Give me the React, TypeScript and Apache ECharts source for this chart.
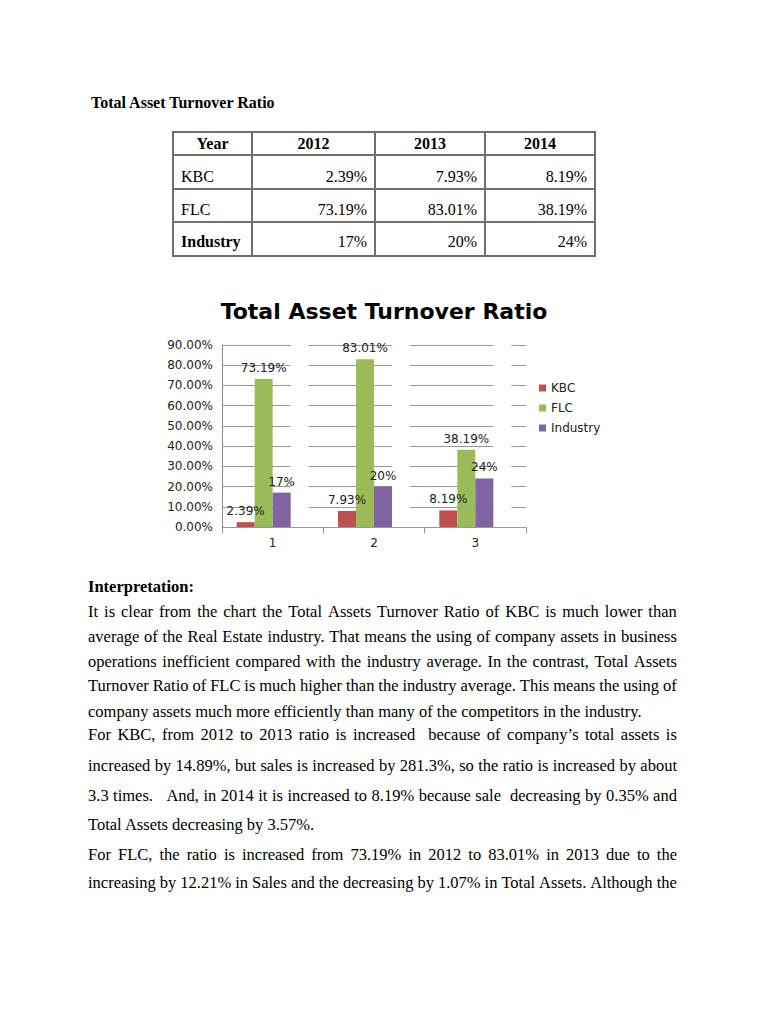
import React, { useEffect, useRef } from 'react';
import * as echarts from 'echarts';

// ---- data ----
const years = ['2012', '2013', '2014'];
const categories = ['1', '2', '3'];
const seriesNames = ['KBC', 'FLC', 'Industry'];
const kbc = [2.39, 7.93, 8.19];
const flc = [73.19, 83.01, 38.19];
const industry = [17, 20, 24];
const yMin = 0;
const yMax = 90;
const yInterval = 10;
const colors = ['#C0504D', '#9BBB59', '#8064A2'];

const chartTitle = 'Total Asset Turnover Ratio';
const docHeading = 'Total Asset Turnover Ratio';
const interpretationHeading = 'Interpretation:';
const bodyLines = [
  'It is clear from the chart the Total Assets Turnover Ratio of KBC is much lower than',
  'average of the Real Estate industry. That means the using of company assets in business',
  'operations inefficient compared with the industry average. In the contrast, Total Assets',
  'Turnover Ratio of FLC is much higher than the industry average. This means the using of',
  'company assets much more efficiently than many of the competitors in the industry.',
  'For KBC, from 2012 to 2013 ratio is increased  because of company\u2019s total assets is',
  'increased by 14.89%, but sales is increased by 281.3%, so the ratio is increased by about',
  '3.3 times.   And, in 2014 it is increased to 8.19% because sale  decreasing by 0.35% and',
  'Total Assets decreasing by 3.57%.',
  'For FLC, the ratio is increased from 73.19% in 2012 to 83.01% in 2013 due to the',
  'increasing by 12.21% in Sales and the decreasing by 1.07% in Total Assets. Although the',
];
const bodyJustified = [true, true, true, true, false, true, true, true, false, true, true];

// ---- layout ----
const bodyLineY = [612, 637, 662, 686, 712, 735, 766, 796, 825, 855, 883];
const serif = "'Liberation Serif', 'Times New Roman', serif";
const sans = "'DejaVu Sans', sans-serif";
const bodySize = 16.5;

const tableRowsY = [132, 155, 189, 222, 256];
const tableColsX = [173, 252, 375, 485, 595];
const tableTextY = [144, 177, 210, 242];

const fmtPct = (v: number) => `${v}%`;

function TextAt(props: { x: number; y: number; children: any; bold?: boolean; align?: 'left' | 'right' | 'center'; w?: number; size?: number }) {
  const { x, y, bold, align = 'left', w, size = 16 } = props;
  const style: any = {
    position: 'absolute',
    top: y - 10,
    height: 20,
    lineHeight: '20px',
    fontFamily: serif,
    fontSize: size,
    fontWeight: bold ? 'bold' : 'normal',
    color: '#000',
    whiteSpace: 'pre',
  };
  if (align === 'left') style.left = x;
  else if (align === 'right') { style.left = x - 300; style.width = 300; style.textAlign = 'right'; }
  else { style.left = x - (w || 200) / 2; style.width = w || 200; style.textAlign = 'center'; }
  return <div style={style}>{props.children}</div>;
}

function JustLine(props: { text: string; y: number; justify: boolean }) {
  const left = 88;
  const width = 589;
  if (!props.justify) {
    return <TextAt x={left} y={props.y} size={bodySize}>{props.text}</TextAt>;
  }
  const words = props.text.split(' ');
  return (
    <div
      style={{
        position: 'absolute',
        left,
        width,
        top: props.y - 10,
        height: 20,
        lineHeight: '20px',
        display: 'flex',
        justifyContent: 'space-between',
        columnGap: 3,
        fontFamily: serif,
        fontSize: bodySize,
        color: '#000',
      }}
    >
      {words.map((w, i) => (
        <span key={i} style={{ whiteSpace: 'pre' }}>{w}</span>
      ))}
    </div>
  );
}

function Table() {
  const x0 = tableColsX[0];
  const x1 = tableColsX[tableColsX.length - 1];
  const y0 = tableRowsY[0];
  const y1 = tableRowsY[tableRowsY.length - 1];
  const lc = '#6f6f6f';
  const rows = [
    { name: 'KBC', vals: kbc, bold: false },
    { name: 'FLC', vals: flc, bold: false },
    { name: 'Industry', vals: industry, bold: true },
  ];
  return (
    <>
      {tableRowsY.map((y, i) => (
        <div key={'h' + i} style={{ position: 'absolute', left: x0 - 1, top: y - 1, width: x1 - x0 + 2, height: 2, background: lc }} />
      ))}
      {tableColsX.map((x, i) => (
        <div key={'v' + i} style={{ position: 'absolute', left: x - 1, top: y0 - 1, width: 2, height: y1 - y0 + 2, background: lc }} />
      ))}
      <TextAt x={(tableColsX[0] + tableColsX[1]) / 2} y={tableTextY[0]} align="center" bold>Year</TextAt>
      {years.map((yr, i) => (
        <TextAt key={yr} x={(tableColsX[i + 1] + tableColsX[i + 2]) / 2} y={tableTextY[0]} align="center" bold>{yr}</TextAt>
      ))}
      {rows.map((r, ri) => (
        <React.Fragment key={r.name}>
          <TextAt x={tableColsX[0] + 8} y={tableTextY[ri + 1]} bold={r.bold}>{r.name}</TextAt>
          {r.vals.map((v, ci) => (
            <TextAt key={ci} x={tableColsX[ci + 2] - 8} y={tableTextY[ri + 1]} align="right">{fmtPct(v)}</TextAt>
          ))}
        </React.Fragment>
      ))}
    </>
  );
}

export default function App() {
  const ref = useRef<HTMLDivElement>(null);

  useEffect(() => {
    if (!ref.current) return;
    const chart = echarts.init(ref.current, undefined, { renderer: 'svg' });
    const labelStyle = {
      show: true,
      position: 'top',
      distance: 5,
      formatter: (p: any) => fmtPct(p.value),
      color: '#222',
      fontSize: 12,
      fontFamily: sans,
    };
    const seriesData = [kbc, flc, industry];
    const option: any = {
      animation: false,
      backgroundColor: 'transparent',
      title: {
        text: chartTitle,
        left: 'center',
        top: 295,
        textStyle: { fontFamily: sans, fontSize: 22, fontWeight: 'bold', color: '#000' },
      },
      legend: {
        orient: 'vertical',
        left: 539,
        top: 382,
        padding: 0,
        data: seriesNames,
        icon: 'rect',
        itemWidth: 7,
        itemHeight: 7,
        itemGap: 8,
        textStyle: { fontFamily: sans, fontSize: 12, color: '#222' },
      },
      grid: { left: 222, right: 242, top: 345, bottom: 497, containLabel: false },
      xAxis: {
        type: 'category',
        data: categories,
        axisLine: { show: false },
        axisTick: { show: true, length: 6, lineStyle: { color: '#8c8c8c' } },
        axisLabel: { margin: 10, fontFamily: sans, fontSize: 12, color: '#222' },
      },
      yAxis: {
        type: 'value',
        min: yMin,
        max: yMax,
        interval: yInterval,
        axisLine: { show: true, lineStyle: { color: '#8c8c8c' } },
        axisTick: { show: false },
        splitLine: { show: true, lineStyle: { color: '#999999' } },
        axisLabel: {
          margin: 9,
          fontFamily: sans,
          fontSize: 12,
          color: '#222',
          formatter: (v: number) => v.toFixed(2) + '%',
        },
      },
      series: [
        ...seriesNames.map((name, i) => ({
          name,
          type: 'bar',
          data: seriesData[i],
          barWidth: 18,
          barGap: '0%',
          itemStyle: { color: colors[i] },
          label: labelStyle,
          z: 2,
        })),
        {
          name: '',
          type: 'bar',
          data: categories.map(() => yMax),
          barWidth: 18,
          barGap: '0%',
          itemStyle: { color: '#ffffff', borderColor: '#ffffff', borderWidth: 2 },
          label: { show: false },
          silent: true,
          emphasis: { disabled: true },
          z: 1,
        },
      ],
    };
    chart.setOption(option);
    return () => chart.dispose();
  }, []);

  return (
    <div style={{ position: 'absolute', left: 0, top: 0, width: 768, height: 1024, background: '#fff', overflow: 'hidden' }}>
      <div ref={ref} style={{ position: 'absolute', left: 0, top: 0, width: 768, height: 1024 }} />
      <div style={{ position: 'absolute', left: 0, top: 0, width: 768, height: 1024, pointerEvents: 'none' }}>
        <TextAt x={91} y={103} bold>{docHeading}</TextAt>
        <Table />
        <TextAt x={88} y={587} bold size={bodySize}>{interpretationHeading}</TextAt>
        {bodyLines.map((t, i) => (
          <JustLine key={i} text={t} y={bodyLineY[i]} justify={bodyJustified[i]} />
        ))}
      </div>
    </div>
  );
}
